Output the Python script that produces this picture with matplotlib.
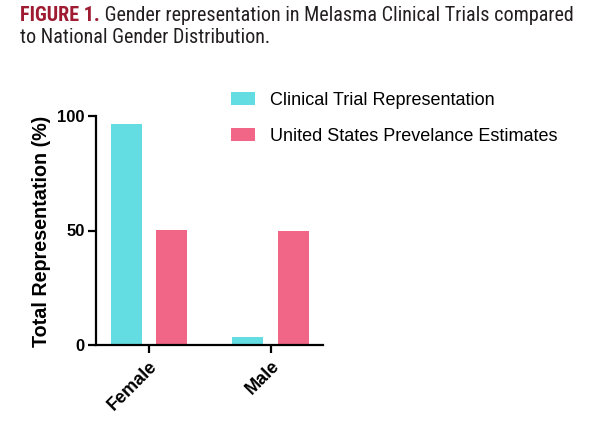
import matplotlib
matplotlib.use("Agg")
import matplotlib.pyplot as plt
from matplotlib import font_manager as fm
from matplotlib import transforms as mtrans
import numpy as np

categories = ["Female", "Male"]
series_names = ["Clinical Trial Representation", "United States Prevelance Estimates"]
clinical = [96.4, 3.6]
us_prev = [50.4, 49.6]
yticks = [0, 50, 100]

c_cyan = "#63DDE1"
c_pink = "#F16587"
title_red = "#9E1B32"
txt = "#231F20"

plt.rcParams["font.family"] = ["Liberation Sans", "DejaVu Sans"]


def pick_title_font():
    cands = [("Liberation Sans Narrow", "normal"), ("Roboto Condensed", "normal"),
             ("DejaVu Sans", "condensed"), ("Roboto", "normal")]
    for fam, st in cands:
        try:
            p = fm.findfont(fm.FontProperties(family=fam, stretch=st),
                            fallback_to_default=False)
            if fam == "DejaVu Sans" and "Condensed" not in p:
                continue
            return fam, st
        except Exception:
            continue
    return "Liberation Sans", "normal"


tfam, tstretch = pick_title_font()

fig = plt.figure(figsize=(6, 4.42), dpi=100)
W, H = 600, 442
ax = fig.add_axes([96 / W, 1 - 345 / H, (323 - 96) / W, (345 - 116) / H])

x = np.arange(len(categories))
bw = 0.255
off = 0.188
b1 = ax.bar(x - off, clinical, bw, color=c_cyan, label=series_names[0])
b2 = ax.bar(x + off, us_prev, bw, color=c_pink, label=series_names[1])

ax.set_xlim(-0.435, 1.43)
ax.set_ylim(0, 100)
ax.set_yticks(yticks)
ax.set_yticklabels([str(v) for v in yticks], fontsize=12, fontweight="bold")
ax.set_xticks(x)
ax.set_xticklabels(categories, fontsize=13, fontweight="bold", rotation=45,
                   ha="right", rotation_mode="anchor")
shift = mtrans.ScaledTranslation(-3 / 100, -2 / 100, fig.dpi_scale_trans)
for lab in ax.get_xticklabels():
    lab.set_transform(lab.get_transform() + shift)
for s in ["top", "right"]:
    ax.spines[s].set_visible(False)
for s in ["left", "bottom"]:
    ax.spines[s].set_linewidth(1.6)
ax.tick_params(axis="both", length=6, width=1.6, color="black")
ax.tick_params(axis="y", pad=2)
ax.tick_params(axis="x", pad=3)

ax.set_ylabel("Total Representation (%)", fontsize=14.2, fontweight="bold")
ax.yaxis.set_label_coords(-0.200, 0.495)

leg = fig.legend(handles=[b1, b2], loc="upper left",
                 bbox_to_anchor=(231 / W, 1 - 92 / H), frameon=False,
                 fontsize=13, handlelength=1.35, handleheight=0.72,
                 handletextpad=0.8, labelspacing=1.06, borderpad=0,
                 borderaxespad=0)

tkw = dict(family=[tfam, "Liberation Sans"], stretch=tstretch)
tsize = 14
t1 = fig.text(20 / W, 1 - 21 / H, "FIGURE 1.", fontsize=tsize, fontweight="bold",
              color=title_red, va="baseline", **tkw)
t2 = fig.text(0, 0, " Gender representation in Melasma Clinical Trials compared",
              fontsize=tsize, color=txt, va="baseline", **tkw)
t3 = fig.text(20 / W, 1 - 43 / H, "to National Gender Distribution.", fontsize=tsize,
              color=txt, va="baseline", **tkw)

# fit line 1 to the reference width (20 px -> 576 px)
for _ in range(3):
    fig.canvas.draw()
    r = fig.canvas.get_renderer()
    w1 = t1.get_window_extent(r).width + t2.get_window_extent(r).width
    tsize = tsize * (556.0 / w1)
    for t in (t1, t2, t3):
        t.set_fontsize(tsize)
fig.canvas.draw()
r = fig.canvas.get_renderer()
bb = t1.get_window_extent(r)
t2.set_position((bb.x1 / W, 1 - 21 / H))

fig.savefig("out.png", dpi=100)
